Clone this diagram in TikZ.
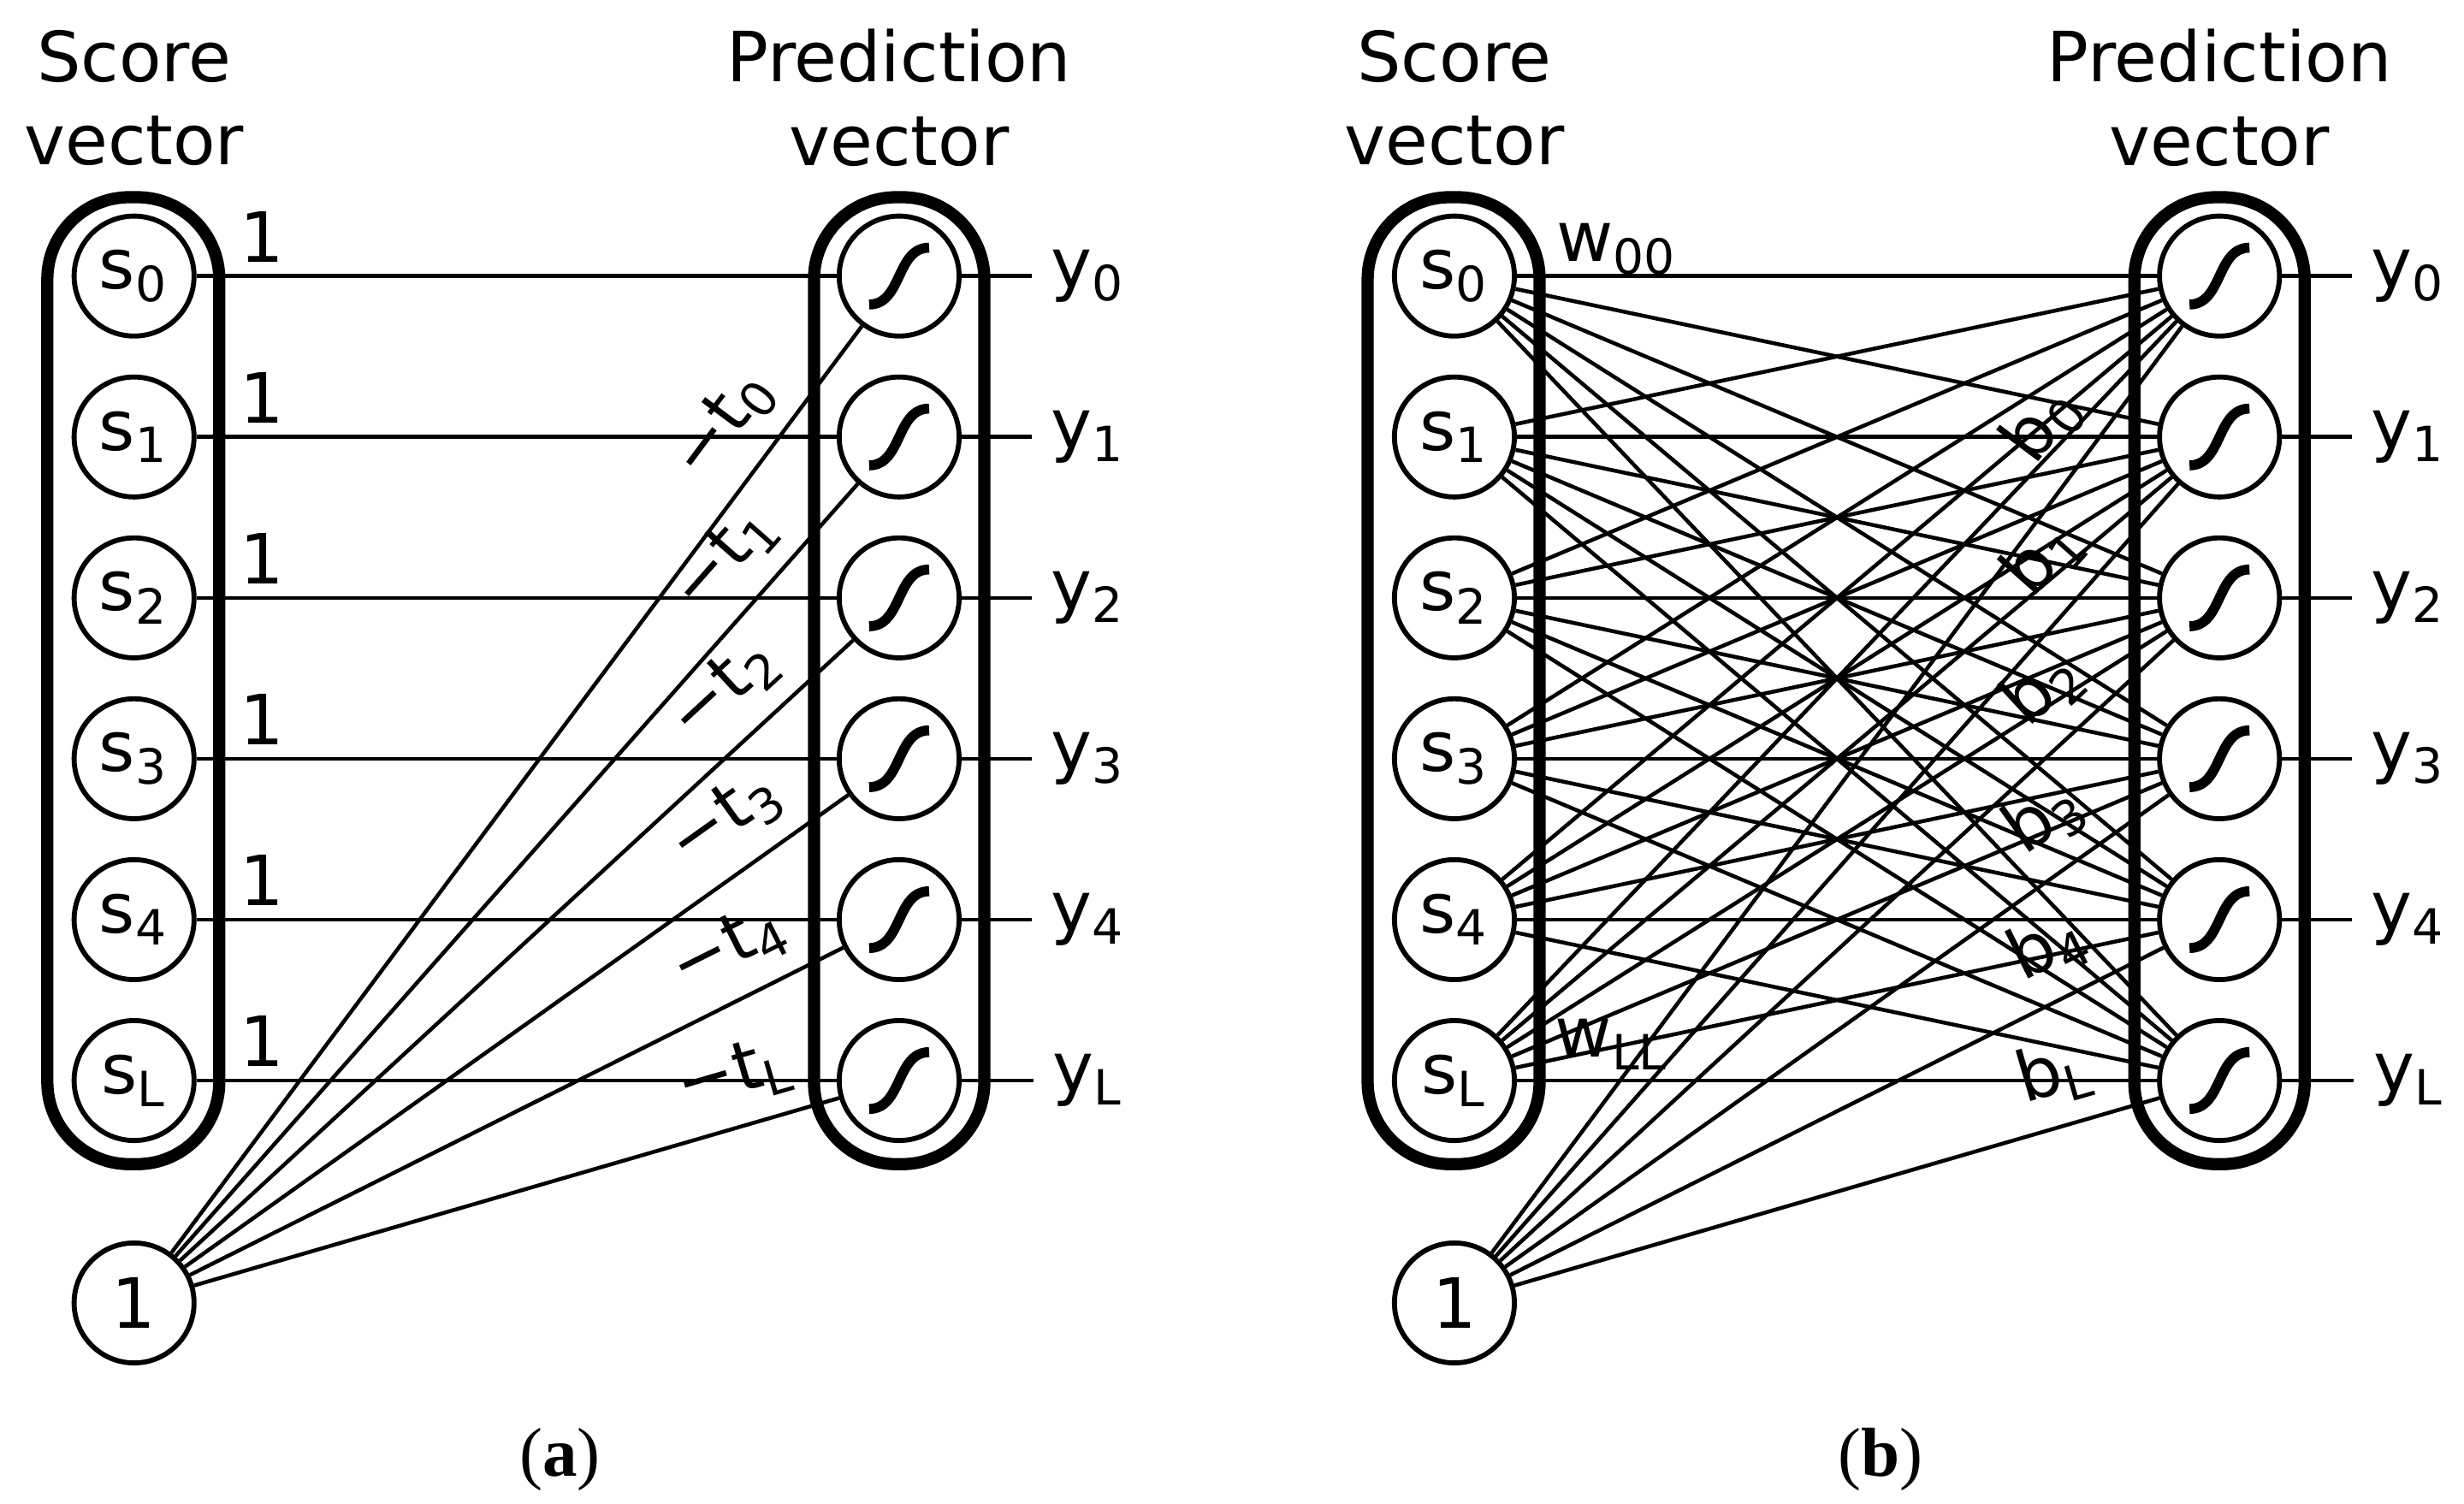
\documentclass[tikz,border=0pt]{standalone}
\usepackage{fontspec}
\setmainfont{DejaVu Sans}
\newfontfamily\capfont{Liberation Serif}
\usetikzlibrary{arrows.meta}

\begin{document}
\begin{tikzpicture}[x=0.01cm, y=-0.01cm, font=\fontsize{12.5}{15}\selectfont,
    unit/.style={circle, draw, line width=0.9pt, minimum size=0.76cm, inner sep=0pt},
    sig/.style={unit, path picture={\draw[line width=1.8pt, shift={(path picture bounding box.center)}]
        (-19,18) .. controls (2,18) and (-2,-18) .. (19,-18);}},
    box/.style={draw, line width=2.2pt, rounded corners=0.52cm},
    wire/.style={line width=0.7pt},
    caption/.style={font=\capfont\fontsize{12.5}{15}\selectfont}]
  \useasboundingbox (0,0) rectangle (1562,953);

  % panel (a)
  \draw[box] (30,125) rectangle (139,738);
  \draw[box] (516,125) rectangle (624,738);
  \node[align=center] (sta) at (85,62) {Score\\vector};
  \node[align=center] (pta) at (570,62) {Prediction\\vector};
  \node[unit] (onea) at (85,826) {1};
  \foreach \i/\t [evaluate=\i as \y using 175+102*\i] in {0/0,1/1,2/2,3/3,4/4,5/L} {
    \node[unit] (sa\i) at (85,\y) {s\textsubscript{\t}};
    \node[sig] (pa\i) at (570,\y) {};
    \node (ya\i) at (690,\y) {y\textsubscript{\t}};
    \node (wa\i) at (166,\y-25) {1};
    \draw[wire] (sa\i) -- (pa\i);
    \draw[wire] (pa\i) -- (ya\i);
    \draw[wire] (onea) -- (pa\i) node[pos=0.86, sloped, above] {−t\textsubscript{\t}};
  }
  \node[caption] (capa) at (355,925) {(\textbf{a})};

  % panel (b)
  \draw[box] (867,125) rectangle (976,738);
  \draw[box] (1353,125) rectangle (1461,738);
  \node[align=center] (stb) at (922,62) {Score\\vector};
  \node[align=center] (ptb) at (1407,62) {Prediction\\vector};
  \node[unit] (oneb) at (922,826) {1};
  \foreach \i/\t [evaluate=\i as \y using 175+102*\i] in {0/0,1/1,2/2,3/3,4/4,5/L} {
    \node[unit] (sb\i) at (922,\y) {s\textsubscript{\t}};
    \node[sig] (pb\i) at (1407,\y) {};
    \node (yb\i) at (1527,\y) {y\textsubscript{\t}};
    \draw[wire] (pb\i) -- (yb\i);
    \draw[wire] (oneb) -- (pb\i) node[pos=0.86, sloped, above] {b\textsubscript{\t}};
  }
  \foreach \i in {0,...,5}
    \foreach \j in {0,...,5}
      \draw[wire] (sb\i) -- (pb\j);
  \node (w00) at (1025,158) {w\textsubscript{00}};
  \node (wLL) at (1022,662) {w\textsubscript{LL}};
  \node[caption] (capb) at (1192,925) {(\textbf{b})};
\end{tikzpicture}
\end{document}
